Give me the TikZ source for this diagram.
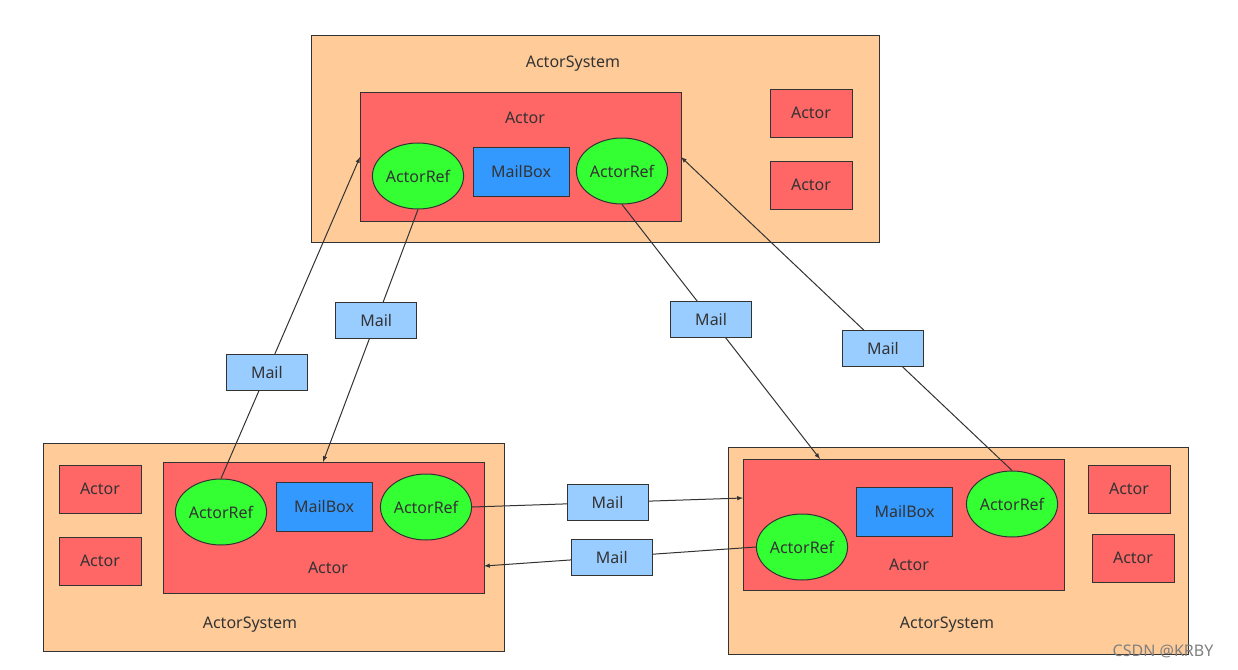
\documentclass[tikz,border=0pt]{standalone}
\usepackage{fontspec}
\setmainfont{Noto Sans}
\usetikzlibrary{shapes.geometric}
\definecolor{sysfill}{HTML}{FFCC99}
\definecolor{actfill}{HTML}{FF6666}
\definecolor{reffill}{HTML}{33FF33}
\definecolor{boxfill}{HTML}{3399FF}
\definecolor{mailfill}{HTML}{99CCFF}
\definecolor{edge}{HTML}{333333}
\tikzset{
  every node/.style={font=\fontsize{16}{19}\selectfont, text=edge},
  sys/.style={draw=edge, fill=sysfill, line width=1pt, inner sep=0pt},
  act/.style={draw=edge, fill=actfill, line width=1pt, inner sep=0pt},
  small/.style={draw=edge, fill=actfill, line width=1pt, minimum width=82pt, minimum height=48pt},
  ref/.style={ellipse, draw=edge, fill=reffill, line width=1pt, minimum width=91pt, minimum height=66pt, inner sep=0pt},
  mbox/.style={draw=edge, fill=boxfill, line width=1pt, minimum width=96pt, minimum height=49pt},
  mail/.style={draw=edge, fill=mailfill, line width=1pt, minimum width=81pt, minimum height=36pt},
  msg/.style={draw=edge, line width=1pt, -latex}
}
\begin{document}
\begin{tikzpicture}[x=1pt,y=-1pt]
\useasboundingbox[fill=white] (0,0) rectangle (1238,669);

% top system
\node[sys, minimum width=568pt, minimum height=206pt] (TS) at (595,139) {};
\node at (573,64) {ActorSystem};
\node[act, minimum width=321pt, minimum height=129pt] (TA) at (520.5,156.5) {};
\node at (525,118) {Actor};
\node[ref] (TR1) at (418,176) {ActorRef};
\node[mbox] (TM) at (521,171.5) {MailBox};
\node[ref] (TR2) at (622,171) {ActorRef};
\node[small] (TS1) at (811,113) {Actor};
\node[small] (TS2) at (811,185) {Actor};

% bottom left system
\node[sys, minimum width=461pt, minimum height=208pt] (LS) at (273.5,547) {};
\node at (250,625) {ActorSystem};
\node[act, minimum width=321pt, minimum height=131pt] (LA) at (323.5,527.5) {};
\node at (328,568) {Actor};
\node[ref] (LR1) at (221,512) {ActorRef};
\node[mbox] (LM) at (324,506.5) {MailBox};
\node[ref] (LR2) at (426,507) {ActorRef};
\node[small] (LS1) at (100,489) {Actor};
\node[small] (LS2) at (100,561) {Actor};

% bottom right system
\node[sys, minimum width=460pt, minimum height=207pt] (RS) at (958,550.5) {};
\node at (947,625) {ActorSystem};
\node[act, minimum width=321pt, minimum height=131pt] (RA) at (903.5,524.5) {};
\node at (909,565) {Actor};
\node[ref] (RR2) at (1012,504) {ActorRef};
\node[ref] (RR1) at (802,547) {ActorRef};
\node[mbox] (RM) at (904.5,511.5) {MailBox};
\node[small] (RS1) at (1129,489) {Actor};
\node[small] (RS2) at (1133,558) {Actor};

% hit points on the actor borders
\coordinate (h1) at (360,157);
\coordinate (h2) at (323,462);
\coordinate (h3) at (820,459);
\coordinate (h4) at (681,157);
\coordinate (h5) at (743,498);
\coordinate (h6) at (484,566);

% messages
\draw[msg] (LR1.north) -- node[mail, pos=0.33] (M1) {Mail} (h1);
\draw[msg] (TR1.south) -- node[mail, pos=0.44] (M2) {Mail} (h2);
\draw[msg] (TR2.south) -- node[mail, pos=0.45] (M3) {Mail} (h3);
\draw[msg] (RR2.north) -- node[mail, pos=0.39] (M4) {Mail} (h4);
\draw[msg] (LR2.east) -- node[mail, pos=0.5] (M5) {Mail} (h5);
\draw[msg] (RR1.west) -- node[mail, pos=0.53] (M6) {Mail} (h6);

\node[text=gray] at (1163,651) {CSDN @KRBY};
\end{tikzpicture}
\end{document}
